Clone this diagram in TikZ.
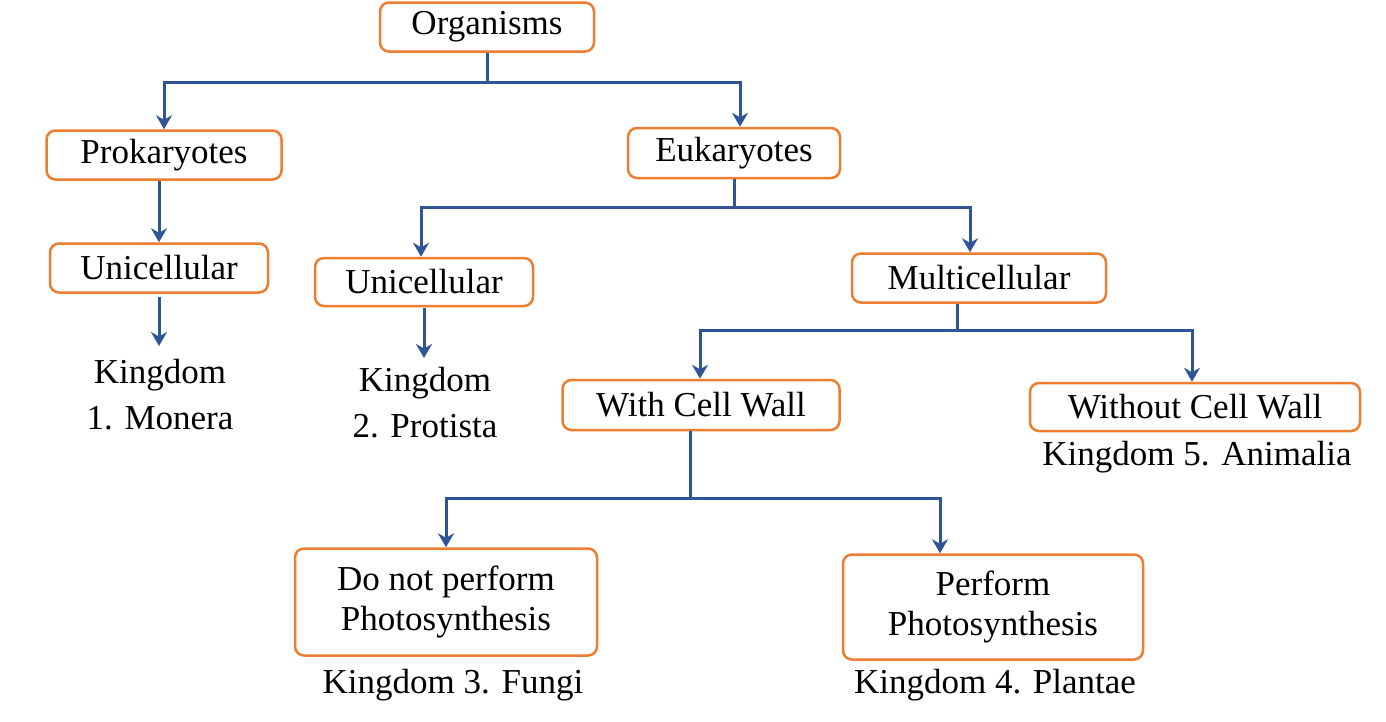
\documentclass[tikz,border=0pt]{standalone}
\usepackage{fontspec}
\setmainfont{Liberation Serif}
\usetikzlibrary{arrows.meta}
\definecolor{bo}{RGB}{237,125,49}
\definecolor{ab}{RGB}{47,85,151}
\begin{document}
\begin{tikzpicture}[x=1pt,y=-1pt,
 box/.style={draw=bo,line width=2.5pt,rounded corners=9pt,fill=white,inner sep=0pt,font=\fontsize{35}{40}\selectfont,align=center},
 lab/.style={inner sep=0pt,font=\fontsize{35}{46}\selectfont,align=center},
 con/.style={draw=ab,line width=3pt},
 arr/.style={con,-{Stealth[length=14pt,width=16pt]}}]
\useasboundingbox (0,0) rectangle (1386,721);
\node[box,minimum width=214pt,minimum height=49pt] (org) at (487,27) {Organisms};
\node[box,minimum width=235pt,minimum height=49pt] (pro) at (164,155) {Prokaryotes};
\node[box,minimum width=212pt,minimum height=50pt] (euk) at (734,153) {Eukaryotes};
\node[box,minimum width=218pt,minimum height=49pt] (u1) at (159,268) {Unicellular};
\node[box,minimum width=218pt,minimum height=48pt] (u2) at (424,282) {Unicellular};
\node[box,minimum width=254pt,minimum height=49pt] (mul) at (979,278) {Multicellular};
\node[box,minimum width=277pt,minimum height=50pt] (wcw) at (701,405) {With Cell Wall};
\node[box,minimum width=330pt,minimum height=48pt] (wocw) at (1195,407) {Without Cell Wall};
\node[box,minimum width=302pt,minimum height=107pt] (dnp) at (446,602) {Do not perform\\Photosynthesis};
\node[box,minimum width=300pt,minimum height=105pt] (pp) at (993,607) {Perform\\Photosynthesis};
\node[lab] (k1) at (160,395) {Kingdom\\1. Monera};
\node[lab] (k2) at (425,403) {Kingdom\\2. Protista};
\node[lab] (k5) at (1197,457) {Kingdom 5. Animalia};
\node[lab] (k3) at (453,685) {Kingdom 3. Fungi};
\node[lab] (k4) at (995,685) {Kingdom 4. Plantae};
\coordinate (j1) at (487,82);
\draw[con] (org.south) -- (j1);
\draw[arr] (j1) -| (pro.north);
\draw[arr] (j1) -| ([xshift=6pt]euk.north);
\coordinate (j2) at (734,207);
\draw[con] (euk.south) -- (j2);
\draw[arr] (j2) -| ([xshift=-3pt]u2.north);
\draw[arr] (j2) -| ([xshift=-9pt]mul.north);
\coordinate (j3) at (957,330);
\draw[con] ([xshift=-22pt]mul.south) -- (j3);
\draw[arr] (j3) -| ([xshift=-1pt]wcw.north);
\draw[arr] (j3) -| ([xshift=-3pt]wocw.north);
\coordinate (j4) at (690,498);
\draw[con] ([xshift=-11pt]wcw.south) -- (j4);
\draw[arr] (j4) -| (dnp.north);
\draw[arr] (j4) -| ([xshift=-53pt]pp.north);
\draw[arr] ([xshift=-5pt]pro.south) -- ([xshift=0pt]u1.north);
\draw[arr] (u1.south |- 0,297) -- (u1.south |- 0,346);
\draw[arr] (u2.south |- 0,308) -- (u2.south |- 0,358);
\end{tikzpicture}
\end{document}
